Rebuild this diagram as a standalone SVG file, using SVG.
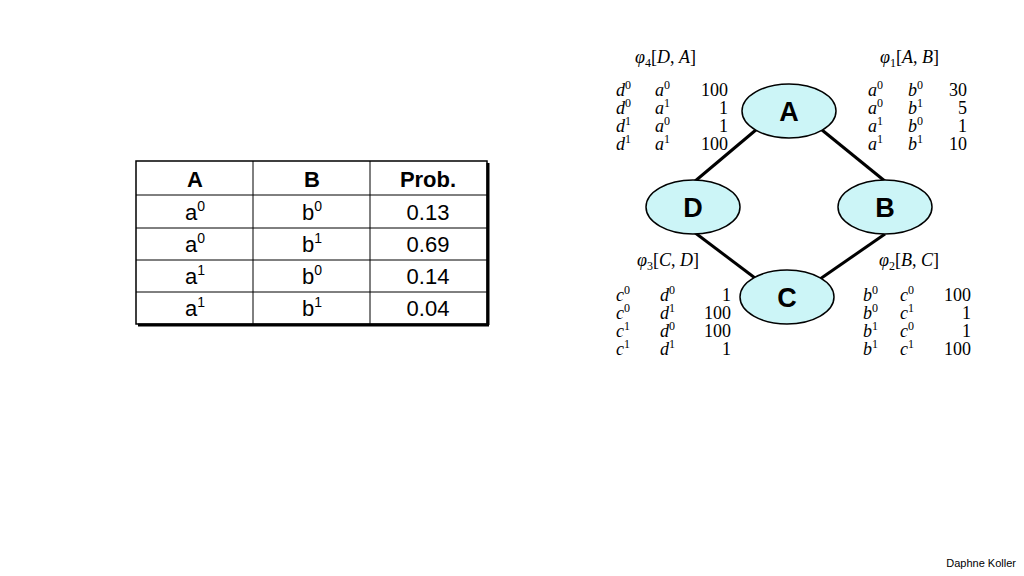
<svg xmlns="http://www.w3.org/2000/svg" width="1024" height="576" viewBox="0 0 1024 576">
<style>
.t{font-family:"Liberation Serif",serif;font-style:italic;font-size:18px;fill:#000}
.n{font-family:"Liberation Serif",serif;font-style:normal;font-size:18px;fill:#000}
.r{text-anchor:end}
.c{font-family:"Liberation Sans",sans-serif;font-size:22px;text-anchor:middle}
.h{font-weight:bold}
.node{fill:#ccf5f7;stroke:#000;stroke-width:1.5}
.lab{font-family:"Liberation Sans",sans-serif;font-size:27px;font-weight:bold;text-anchor:middle}
.s{font-size:12px}
.cs{font-size:14px}
</style>
<rect width="1024" height="576" fill="#fff"/>
<g id="table">
<rect x="136" y="161" width="351" height="163" fill="#fff" stroke="#000" stroke-width="1.5"/>
<line x1="488" y1="163" x2="488" y2="325" stroke="#000" stroke-width="3"/>
<line x1="138" y1="325" x2="489" y2="325" stroke="#000" stroke-width="3"/>
<g stroke="#000" stroke-width="1">
<line x1="253" y1="161" x2="253" y2="324"/><line x1="370" y1="161" x2="370" y2="324"/>
<line x1="136" y1="195" x2="487" y2="195"/><line x1="136" y1="228" x2="487" y2="228"/>
<line x1="136" y1="260" x2="487" y2="260"/><line x1="136" y1="292" x2="487" y2="292"/>
</g>
<text class="c h" x="195" y="187">A</text><text class="c h" x="312" y="187">B</text><text class="c h" x="428" y="187">Prob.</text>
<text class="c" x="195" y="220">a<tspan class="cs" dy="-9">0</tspan></text><text class="c" x="312" y="220">b<tspan class="cs" dy="-9">0</tspan></text><text class="c" x="428" y="220">0.13</text>
<text class="c" x="195" y="252">a<tspan class="cs" dy="-9">0</tspan></text><text class="c" x="312" y="252">b<tspan class="cs" dy="-9">1</tspan></text><text class="c" x="428" y="252">0.69</text>
<text class="c" x="195" y="284">a<tspan class="cs" dy="-9">1</tspan></text><text class="c" x="312" y="284">b<tspan class="cs" dy="-9">0</tspan></text><text class="c" x="428" y="284">0.14</text>
<text class="c" x="195" y="316">a<tspan class="cs" dy="-9">1</tspan></text><text class="c" x="312" y="316">b<tspan class="cs" dy="-9">1</tspan></text><text class="c" x="428" y="316">0.04</text>
</g>
<g id="connectors" stroke="#000" stroke-width="3">
<line x1="757" y1="129" x2="694" y2="182"/>
<line x1="822" y1="130" x2="886" y2="182"/>
<line x1="694" y1="232" x2="755" y2="278"/>
<line x1="885" y1="234" x2="820" y2="279"/>
</g>
<g id="nodeA"><ellipse class="node" cx="789" cy="111" rx="47" ry="27"/><text class="lab" x="789" y="121">A</text></g>
<g id="nodeD"><ellipse class="node" cx="693" cy="207" rx="47" ry="27"/><text class="lab" x="693" y="217">D</text></g>
<g id="nodeB"><ellipse class="node" cx="885" cy="207" rx="47" ry="27"/><text class="lab" x="885" y="217">B</text></g>
<g id="nodeC"><ellipse class="node" cx="787" cy="297" rx="47" ry="27"/><text class="lab" x="787" y="307">C</text></g>
<g id="phi4">
<text class="t" x="635" y="63">φ<tspan class="s n" dy="4">4</tspan><tspan class="n" dy="-4">[</tspan>D<tspan class="n">, </tspan>A<tspan class="n">]</tspan></text>
<text class="t" x="616" y="96">d<tspan class="s n" dy="-7">0</tspan></text><text class="t" x="655" y="96">a<tspan class="s n" dy="-7">0</tspan></text><text class="n r" x="728" y="96">100</text>
<text class="t" x="616" y="114">d<tspan class="s n" dy="-7">0</tspan></text><text class="t" x="655" y="114">a<tspan class="s n" dy="-7">1</tspan></text><text class="n r" x="728" y="114">1</text>
<text class="t" x="616" y="132">d<tspan class="s n" dy="-7">1</tspan></text><text class="t" x="655" y="132">a<tspan class="s n" dy="-7">0</tspan></text><text class="n r" x="728" y="132">1</text>
<text class="t" x="616" y="150">d<tspan class="s n" dy="-7">1</tspan></text><text class="t" x="655" y="150">a<tspan class="s n" dy="-7">1</tspan></text><text class="n r" x="728" y="150">100</text>
</g>
<g id="phi1">
<text class="t" x="880" y="63">φ<tspan class="s n" dy="4">1</tspan><tspan class="n" dy="-4">[</tspan>A<tspan class="n">, </tspan>B<tspan class="n">]</tspan></text>
<text class="t" x="868" y="96">a<tspan class="s n" dy="-7">0</tspan></text><text class="t" x="908" y="96">b<tspan class="s n" dy="-7">0</tspan></text><text class="n r" x="967" y="96">30</text>
<text class="t" x="868" y="114">a<tspan class="s n" dy="-7">0</tspan></text><text class="t" x="908" y="114">b<tspan class="s n" dy="-7">1</tspan></text><text class="n r" x="967" y="114">5</text>
<text class="t" x="868" y="132">a<tspan class="s n" dy="-7">1</tspan></text><text class="t" x="908" y="132">b<tspan class="s n" dy="-7">0</tspan></text><text class="n r" x="967" y="132">1</text>
<text class="t" x="868" y="150">a<tspan class="s n" dy="-7">1</tspan></text><text class="t" x="908" y="150">b<tspan class="s n" dy="-7">1</tspan></text><text class="n r" x="967" y="150">10</text>
</g>
<g id="phi3">
<text class="t" x="637" y="266">φ<tspan class="s n" dy="4">3</tspan><tspan class="n" dy="-4">[</tspan>C<tspan class="n">, </tspan>D<tspan class="n">]</tspan></text>
<text class="t" x="616" y="301">c<tspan class="s n" dy="-7">0</tspan></text><text class="t" x="660" y="301">d<tspan class="s n" dy="-7">0</tspan></text><text class="n r" x="731" y="301">1</text>
<text class="t" x="616" y="319">c<tspan class="s n" dy="-7">0</tspan></text><text class="t" x="660" y="319">d<tspan class="s n" dy="-7">1</tspan></text><text class="n r" x="731" y="319">100</text>
<text class="t" x="616" y="337">c<tspan class="s n" dy="-7">1</tspan></text><text class="t" x="660" y="337">d<tspan class="s n" dy="-7">0</tspan></text><text class="n r" x="731" y="337">100</text>
<text class="t" x="616" y="355">c<tspan class="s n" dy="-7">1</tspan></text><text class="t" x="660" y="355">d<tspan class="s n" dy="-7">1</tspan></text><text class="n r" x="731" y="355">1</text>
</g>
<g id="phi2">
<text class="t" x="879" y="266">φ<tspan class="s n" dy="4">2</tspan><tspan class="n" dy="-4">[</tspan>B<tspan class="n">, </tspan>C<tspan class="n">]</tspan></text>
<text class="t" x="863" y="301">b<tspan class="s n" dy="-7">0</tspan></text><text class="t" x="900" y="301">c<tspan class="s n" dy="-7">0</tspan></text><text class="n r" x="971" y="301">100</text>
<text class="t" x="863" y="319">b<tspan class="s n" dy="-7">0</tspan></text><text class="t" x="900" y="319">c<tspan class="s n" dy="-7">1</tspan></text><text class="n r" x="971" y="319">1</text>
<text class="t" x="863" y="337">b<tspan class="s n" dy="-7">1</tspan></text><text class="t" x="900" y="337">c<tspan class="s n" dy="-7">0</tspan></text><text class="n r" x="971" y="337">1</text>
<text class="t" x="863" y="355">b<tspan class="s n" dy="-7">1</tspan></text><text class="t" x="900" y="355">c<tspan class="s n" dy="-7">1</tspan></text><text class="n r" x="971" y="355">100</text>
</g>
<text x="1016" y="567" font-family="Liberation Sans,sans-serif" font-size="11" text-anchor="end">Daphne Koller</text>
</svg>
